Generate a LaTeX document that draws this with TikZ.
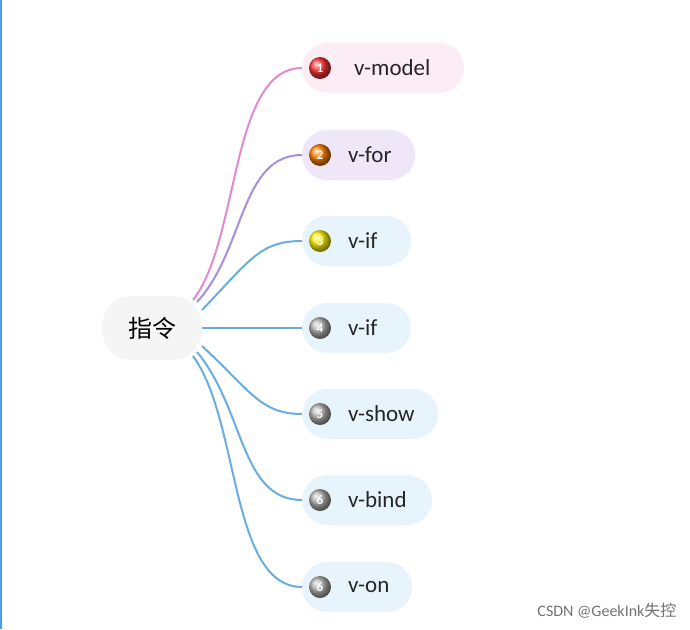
\documentclass[tikz,border=0pt]{standalone}
\usepackage{fontspec}
\setmainfont{Carlito}
\newfontfamily\cjk{Noto Sans CJK SC}
\begin{document}
\begin{tikzpicture}[x=1pt,y=-1pt,
  pill/.style={rounded corners=25pt,minimum height=50pt,anchor=west,inner sep=0pt,font=\fontsize{23}{26}\selectfont,text=black!85},
  badge/.style={circle,minimum size=22pt,inner sep=0pt,text=white,font=\bfseries\fontsize{13}{13}\selectfont},
  link/.style={line width=2pt}]
\definecolor{lp}{HTML}{E08AD0}\definecolor{lv}{HTML}{A68EE0}\definecolor{lb}{HTML}{6AAEE0}
\definecolor{fp}{HTML}{FCECF4}\definecolor{fv}{HTML}{EFE6F8}\definecolor{fb}{HTML}{E8F4FC}
\definecolor{br}{HTML}{4A9FEA}
\useasboundingbox (0,0) rectangle (690,629);
\fill[white] (0,0) rectangle (690,629);
\draw[line width=2pt,color=br] (1,0) -- (1,629);
\node[rounded corners=30pt,fill=black!4,minimum width=100pt,minimum height=64pt,font=\cjk\fontsize{24}{28}\selectfont] (c) at (152,328) {指令};
\foreach \i/\y/\w/\t/\fc/\o in {1/68/162/v-model/fp/52,2/155/113/v-for/fv/46,3/241/109/v-if/fb/46,4/328/109/v-if/fb/46,5/414/136/v-show/fb/46,6/500/130/v-bind/fb/46,7/587/110/v-on/fb/46}{
  \node[pill,fill=\fc,minimum width=\w pt,text width=\w pt] (p\i) at (302,\y) {\hspace*{\o pt}\t};
}
\foreach \i/\y/\n/\bc in {1/68/1/red!80,2/155/2/orange,3/241/3/yellow!90!orange,4/328/4/black!30,5/414/5/black!30,6/500/6/black!30,7/587/6/black!30}{
  \node[badge,ball color=\bc,shading=ball] (b\i) at (320,\y) {\n};
}
\draw[link,lp] (193,300) .. controls (240,240) and (230,68) .. (p1.west);
\draw[link,lv] (197,302) .. controls (245,250) and (240,155) .. (p2.west);
\draw[link,lb] (202,310) .. controls (250,260) and (260,241) .. (p3.west);
\draw[link,lb] (c.east) -- (p4.west);
\draw[link,lb] (202,346) .. controls (250,390) and (260,414) .. (p5.west);
\draw[link,lb] (197,352) .. controls (245,410) and (240,500) .. (p6.west);
\draw[link,lb] (193,356) .. controls (240,420) and (230,587) .. (p7.west);
\node[anchor=east,text=black!55,font=\fontsize{16}{18}\selectfont] (wm) at (680,611) {CSDN @GeekInk{\cjk 失控}};
\end{tikzpicture}
\end{document}
